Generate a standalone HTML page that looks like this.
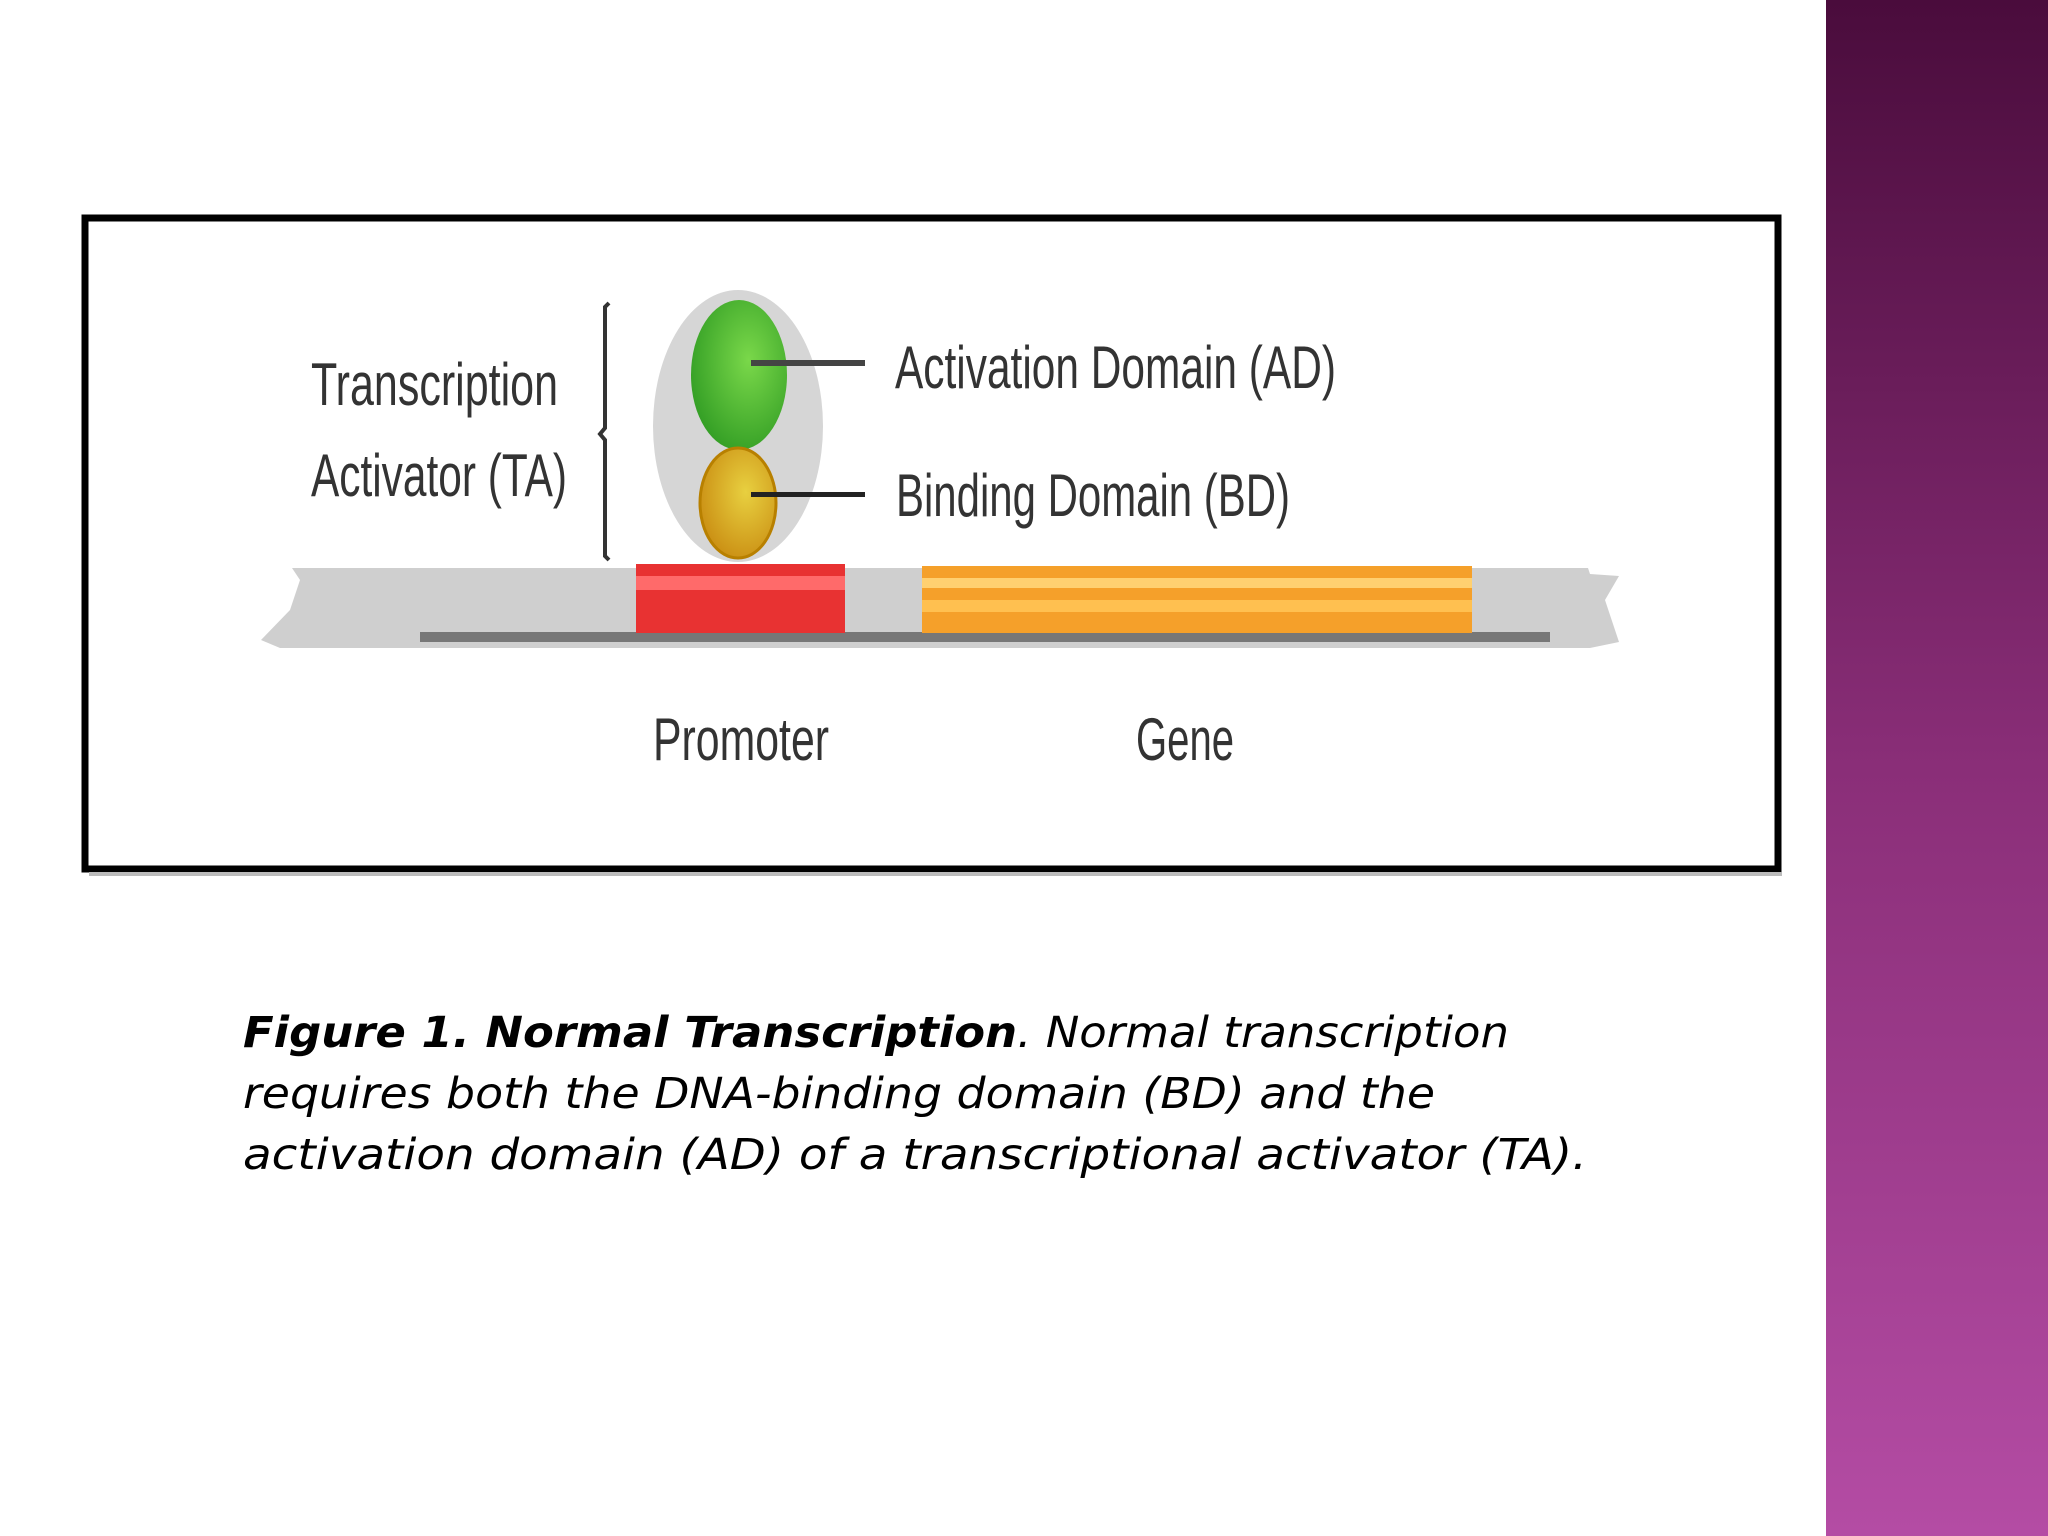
<!DOCTYPE html>
<html><head><meta charset="utf-8"><style>
html,body{margin:0;padding:0;width:2048px;height:1536px;overflow:hidden;background:#fff}
</style></head><body>
<svg width="2048" height="1536" xmlns="http://www.w3.org/2000/svg">
<defs>
<linearGradient id="pg" x1="0" y1="0" x2="0" y2="1">
<stop offset="0" stop-color="#4a0c3c"/><stop offset="0.5" stop-color="#8a2e78"/><stop offset="1" stop-color="#b44ca4"/>
</linearGradient>
<radialGradient id="gg" cx="0.6" cy="0.4" r="0.7"><stop offset="0" stop-color="#7ad84a"/><stop offset="1" stop-color="#2e9a22"/></radialGradient>
<radialGradient id="yg" cx="0.6" cy="0.4" r="0.7"><stop offset="0" stop-color="#e8d040"/><stop offset="1" stop-color="#c88a10"/></radialGradient>
</defs>
<rect x="1826" y="0" width="222" height="1536" fill="url(#pg)"/>
<rect x="85" y="218" width="1693" height="651" fill="#fff" stroke="#000" stroke-width="7"/>
<rect x="89" y="872" width="1693" height="4" fill="#bbb"/>
<!-- DNA -->
<polygon points="292,568 1588,568 1590,574 1619,576 1605,600 1619,642 1590,648 280,648 261,640 290,610 300,580" fill="#cfcfcf"/>
<rect x="420" y="632" width="1130" height="10" fill="#777"/>
<rect x="636" y="564" width="209" height="69" fill="#e83232"/>
<rect x="636" y="576" width="209" height="14" fill="#ff6a6a"/>
<rect x="922" y="566" width="550" height="67" fill="#f5a02a"/>
<rect x="922" y="578" width="550" height="10" fill="#ffd070"/>
<rect x="922" y="600" width="550" height="12" fill="#ffc050"/>
<!-- TA -->
<ellipse cx="738" cy="426" rx="85" ry="136" fill="#d6d6d6"/>
<ellipse cx="739" cy="375" rx="48" ry="75" fill="url(#gg)"/>
<ellipse cx="738" cy="503" rx="38" ry="55" fill="url(#yg)" stroke="#b88000" stroke-width="3"/>
<rect x="751" y="360" width="114" height="6" fill="#444"/>
<rect x="751" y="492" width="114" height="5" fill="#222"/>
<path d="M609,303 L605,307 L605,428 L600,434 L605,440 L605,556 L609,560" fill="none" stroke="#333" stroke-width="4"/>
<g font-family="'Liberation Sans Narrow','Liberation Sans',sans-serif" fill="#333" font-size="60">
<text x="311" y="405" textLength="247" lengthAdjust="spacingAndGlyphs">Transcription</text>
<text x="311" y="496" textLength="256" lengthAdjust="spacingAndGlyphs">Activator (TA)</text>
<text x="895" y="388" textLength="441" lengthAdjust="spacingAndGlyphs">Activation Domain (AD)</text>
<text x="896" y="516" textLength="394" lengthAdjust="spacingAndGlyphs">Binding Domain (BD)</text>
<text x="653" y="760" textLength="176" lengthAdjust="spacingAndGlyphs">Promoter</text>
<text x="1136" y="760" textLength="98" lengthAdjust="spacingAndGlyphs">Gene</text>
</g>
<g font-family="'DejaVu Sans',sans-serif" font-style="italic" font-size="43" fill="#000">
<text x="243" y="1047" textLength="1266" lengthAdjust="spacingAndGlyphs"><tspan font-weight="bold">Figure 1. Normal Transcription</tspan>. Normal transcription</text>
<text x="243" y="1108" textLength="1192" lengthAdjust="spacingAndGlyphs">requires both the DNA-binding domain (BD) and the</text>
<text x="243" y="1169" textLength="1344" lengthAdjust="spacingAndGlyphs">activation domain (AD) of a transcriptional activator (TA).</text>
</g>
</svg>
</body></html>
